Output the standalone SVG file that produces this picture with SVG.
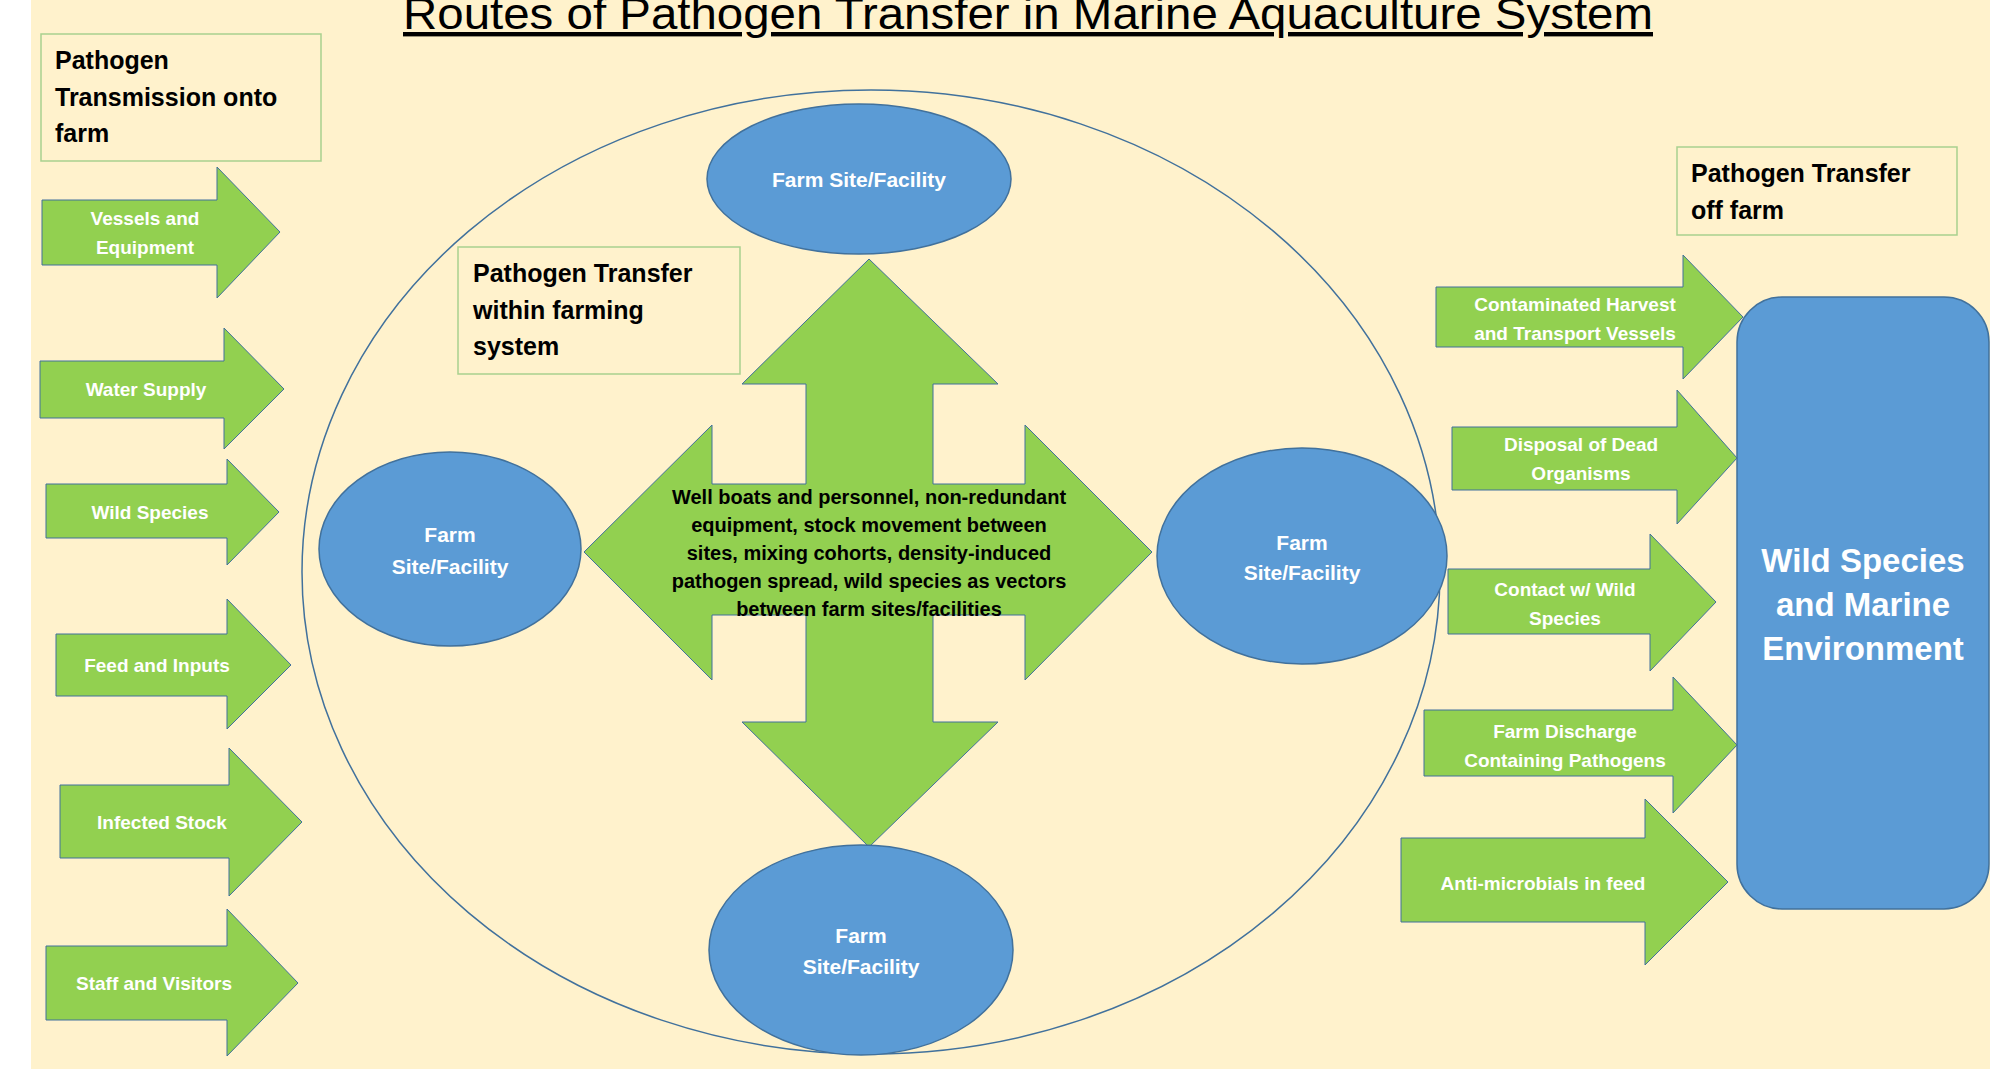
<svg xmlns="http://www.w3.org/2000/svg" width="1990" height="1069" viewBox="0 0 1990 1069">
<style>
.bg{fill:#FFF2CC}
.hd{font-family:"Liberation Sans",Arial,sans-serif;font-weight:bold;font-size:25px;fill:#000}
.arr{fill:#92D050;stroke:#41719C;stroke-width:1}
.at{font-family:"Liberation Sans",Arial,sans-serif;font-weight:bold;font-size:19px;fill:#fff;text-anchor:middle}
.ell{fill:#5B9BD5;stroke:#41719C;stroke-width:1.5}
.et{font-family:"Liberation Sans",Arial,sans-serif;font-weight:bold;font-size:21px;fill:#fff;text-anchor:middle}
.ct{font-family:"Liberation Sans",Arial,sans-serif;font-weight:bold;font-size:20px;fill:#000;text-anchor:middle}
.wt{font-family:"Liberation Sans",Arial,sans-serif;font-weight:bold;font-size:33px;fill:#fff;text-anchor:middle}
</style>
<rect x="0" y="0" width="1990" height="1069" fill="#fff"/>
<rect class="bg" x="31" y="0" width="1959" height="1069"/>
<text x="1028" y="29" text-anchor="middle" font-family="'Liberation Sans',Arial,sans-serif" font-size="44" text-decoration="underline" textLength="1250" lengthAdjust="spacingAndGlyphs">Routes of Pathogen Transfer in Marine Aquaculture System</text>

<g id="box-onto">
<rect x="41" y="34" width="280" height="127" fill="#FFF2CC" stroke="#A9D18E" stroke-width="1.5"/>
<text class="hd" x="55" y="69">Pathogen</text>
<text class="hd" x="55" y="106">Transmission onto</text>
<text class="hd" x="55" y="142">farm</text>
</g>
<g id="box-within">
<rect x="458" y="247" width="282" height="127" fill="#FFF2CC" stroke="#A9D18E" stroke-width="1.5"/>
<text class="hd" x="473" y="282">Pathogen Transfer</text>
<text class="hd" x="473" y="319">within farming</text>
<text class="hd" x="473" y="355">system</text>
</g>
<g id="box-off">
<rect x="1677" y="147" width="280" height="88" fill="#FFF2CC" stroke="#A9D18E" stroke-width="1.5"/>
<text class="hd" x="1691" y="182">Pathogen Transfer</text>
<text class="hd" x="1691" y="219">off farm</text>
</g>

<g id="in-vessels"><polygon class="arr" points="42,200 217,200 217,167 280,232 217,298 217,265 42,265"/><text class="at" x="145" y="225">Vessels and</text><text class="at" x="145" y="254">Equipment</text></g>
<g id="in-water"><polygon class="arr" points="40,361 224,361 224,328 284,389 224,449 224,418 40,418"/><text class="at" x="146" y="396">Water Supply</text></g>
<g id="in-wild"><polygon class="arr" points="46,484 227,484 227,459 279,512 227,565 227,538 46,538"/><text class="at" x="150" y="519">Wild Species</text></g>
<g id="in-feed"><polygon class="arr" points="56,634 227,634 227,599 291,665 227,729 227,696 56,696"/><text class="at" x="157" y="672">Feed and Inputs</text></g>
<g id="in-stock"><polygon class="arr" points="60,785 229,785 229,748 302,822 229,896 229,858 60,858"/><text class="at" x="162" y="829">Infected Stock</text></g>
<g id="in-staff"><polygon class="arr" points="46,946 227,946 227,909 298,983 227,1056 227,1020 46,1020"/><text class="at" x="154" y="990">Staff and Visitors</text></g>

<g id="system">
<ellipse cx="871" cy="572" rx="569" ry="482" fill="none" stroke="#41719C" stroke-width="1.5"/>
</g>
<g id="cross">
<polygon class="arr" points="869,259 998,384 933,384 933,484 1025,484 1025,425 1152,552 1025,680 1025,615 933,615 933,722 998,722 869,847 742,722 806,722 806,615 712,615 712,680 584,552 712,425 712,484 806,484 806,384 742,384"/>
<text class="ct" x="869" y="504">Well boats and personnel, non-redundant</text>
<text class="ct" x="869" y="532">equipment, stock movement between</text>
<text class="ct" x="869" y="560">sites, mixing cohorts, density-induced</text>
<text class="ct" x="869" y="588">pathogen spread, wild species as vectors</text>
<text class="ct" x="869" y="616">between farm sites/facilities</text>
</g>
<g id="farm-top"><ellipse class="ell" cx="859" cy="179" rx="152" ry="75"/><text class="et" x="859" y="187">Farm Site/Facility</text></g>
<g id="farm-left"><ellipse class="ell" cx="450" cy="549" rx="131" ry="97"/><text class="et" x="450" y="542" font-weight="normal">Farm</text><text class="et" x="450" y="574">Site/Facility</text></g>
<g id="farm-right"><ellipse class="ell" cx="1302" cy="556" rx="145" ry="108"/><text class="et" x="1302" y="550">Farm</text><text class="et" x="1302" y="580">Site/Facility</text></g>
<g id="farm-bottom"><ellipse class="ell" cx="861" cy="950" rx="152" ry="105"/><text class="et" x="861" y="943">Farm</text><text class="et" x="861" y="974">Site/Facility</text></g>

<g id="out-harvest"><polygon class="arr" points="1436,287 1683,287 1683,255 1743,317 1683,379 1683,347 1436,347"/><text class="at" x="1575" y="311">Contaminated Harvest</text><text class="at" x="1575" y="340">and Transport Vessels</text></g>
<g id="out-disposal"><polygon class="arr" points="1452,427 1677,427 1677,390 1737,458 1677,524 1677,490 1452,490"/><text class="at" x="1581" y="451">Disposal of Dead</text><text class="at" x="1581" y="480">Organisms</text></g>
<g id="out-contact"><polygon class="arr" points="1448,569 1650,569 1650,534 1716,602 1650,671 1650,634 1448,634"/><text class="at" x="1565" y="596">Contact w/ Wild</text><text class="at" x="1565" y="625">Species</text></g>
<g id="out-discharge"><polygon class="arr" points="1424,710 1673,710 1673,677 1737,745 1673,813 1673,776 1424,776"/><text class="at" x="1565" y="738">Farm Discharge</text><text class="at" x="1565" y="767">Containing Pathogens</text></g>
<g id="out-antimicrobial"><polygon class="arr" points="1401,838 1645,838 1645,799 1728,882 1645,965 1645,922 1401,922"/><text class="at" x="1543" y="890">Anti-microbials in feed</text></g>

<g id="wild-env">
<rect class="ell" x="1737" y="297" width="252" height="612" rx="45"/>
<text class="wt" x="1863" y="572">Wild Species</text>
<text class="wt" x="1863" y="616">and Marine</text>
<text class="wt" x="1863" y="660">Environment</text>
</g>
</svg>
